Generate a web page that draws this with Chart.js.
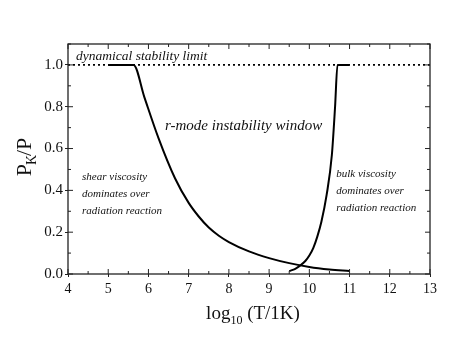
<!DOCTYPE html>
<html>
<head>
<meta charset="utf-8">
<script src="https://cdn.jsdelivr.net/npm/chart.js@4"></script>
<style>
  html, body { margin: 0; padding: 0; background: #fff; }
  #wrap { width: 474px; height: 345px; }
</style>
</head>
<body>
<div id="wrap"><canvas id="rmodeChart" width="474" height="345"></canvas></div>
<script>
// curva da viscosidade de cisalhamento (log10 T, Pk/P)
const shearX = [5.0, 5.63, 5.9, 6.25, 6.66, 7.0, 7.25, 7.5, 7.75, 8.0, 8.5, 9.0, 9.5, 10.0, 10.5, 11.0];
const shearY = [1.0, 1.0, 0.845, 0.65, 0.458, 0.34, 0.275, 0.222, 0.183, 0.153, 0.108, 0.076, 0.052, 0.034, 0.022, 0.014];

// curva da viscosidade volumétrica
const bulkX = [9.5, 9.65, 9.77, 9.9, 10.0, 10.1, 10.2, 10.3, 10.43, 10.56, 10.64, 10.7, 11.0];
const bulkY = [0.014, 0.025, 0.04, 0.062, 0.088, 0.125, 0.18, 0.25, 0.378, 0.569, 0.80, 1.0, 1.0];

// limite de estabilidade dinâmica
const limitX = [4, 13];
const limitY = [1.0, 1.0];

const xTicks = [4, 5, 6, 7, 8, 9, 10, 11, 12, 13];
const yTicks = [0.0, 0.2, 0.4, 0.6, 0.8, 1.0];

const SERIF = '"Liberation Serif", "Times New Roman", serif';

function pts(xs, ys) {
    return xs.map((x, i) => ({ x: x, y: ys[i] }));
}

// textos dentro do gráfico (posição em coordenadas de dados)
const notes = [
    { text: 'dynamical stability limit', x: 4.2, y: 1.04, size: 13.5 },
    { text: 'r-mode instability window', x: 6.41, y: 0.708, size: 15 },
    { text: 'shear viscosity', x: 4.35, y: 0.464, size: 11 },
    { text: 'dominates over', x: 4.35, y: 0.383, size: 11 },
    { text: 'radiation reaction', x: 4.35, y: 0.301, size: 11 },
    { text: 'bulk viscosity', x: 10.67, y: 0.478, size: 11 },
    { text: 'dominates over', x: 10.67, y: 0.397, size: 11 },
    { text: 'radiation reaction', x: 10.67, y: 0.316, size: 11 }
];

const framePlugin = {
    id: 'frame',
    afterDatasetsDraw(chart) {
        const ctx = chart.ctx;
        const a = chart.chartArea;
        const xs = chart.scales.x;
        const ys = chart.scales.y;
        ctx.save();
        ctx.strokeStyle = '#222';
        ctx.lineWidth = 1.3;
        ctx.strokeRect(a.left, a.top, a.right - a.left, a.bottom - a.top);

        // marcas internas (maiores e menores)
        ctx.lineWidth = 1;
        ctx.beginPath();
        for (let v = 4; v <= 13.001; v += 0.5) {
            const px = xs.getPixelForValue(v);
            const len = Math.abs(v - Math.round(v)) < 0.01 ? 5 : 3;
            ctx.moveTo(px, a.bottom); ctx.lineTo(px, a.bottom - len);
            ctx.moveTo(px, a.top); ctx.lineTo(px, a.top + len);
        }
        for (let v = 0; v <= 1.1001; v += 0.1) {
            const py = ys.getPixelForValue(v);
            const major = Math.round(v * 10) % 2 === 0;
            const len = major ? 5 : 3;
            ctx.moveTo(a.left, py); ctx.lineTo(a.left + len, py);
            ctx.moveTo(a.right, py); ctx.lineTo(a.right - len, py);
        }
        ctx.stroke();

        // anotações
        ctx.fillStyle = '#111';
        ctx.textBaseline = 'middle';
        ctx.textAlign = 'left';
        notes.forEach(n => {
            ctx.font = 'italic ' + n.size + 'px ' + SERIF;
            ctx.fillText(n.text, xs.getPixelForValue(n.x), ys.getPixelForValue(n.y));
        });

        // título do eixo x: log10 (T/1K)
        ctx.textBaseline = 'alphabetic';
        const big = '19px ' + SERIF, small = '12px ' + SERIF;
        ctx.font = big; const w1 = ctx.measureText('log').width;
        ctx.font = small; const w2 = ctx.measureText('10').width;
        ctx.font = big; const w3 = ctx.measureText(' (T/1K)').width;
        let x0 = (a.left + a.right) / 2 + 4 - (w1 + w2 + w3) / 2;
        const yb = 319;
        ctx.font = big; ctx.fillText('log', x0, yb);
        ctx.font = small; ctx.fillText('10', x0 + w1, yb + 5);
        ctx.font = big; ctx.fillText(' (T/1K)', x0 + w1 + w2, yb);

        // título do eixo y: PK/P
        ctx.translate(31, 156);
        ctx.rotate(-Math.PI / 2);
        const yBig = '22px ' + SERIF, ySmall = '14px ' + SERIF;
        ctx.font = yBig; const p1 = ctx.measureText('P').width;
        ctx.font = ySmall; const p2 = ctx.measureText('K').width;
        ctx.font = yBig; const p3 = ctx.measureText('/P').width;
        let s0 = -(p1 + p2 + p3) / 2;
        ctx.font = yBig; ctx.fillText('P', s0, 0);
        ctx.font = ySmall; ctx.fillText('K', s0 + p1 - 1, 5);
        ctx.font = yBig; ctx.fillText('/P', s0 + p1 + p2 - 2, 0);
        ctx.restore();
    }
};

document.addEventListener('DOMContentLoaded', function() {
    const canvas = document.getElementById('rmodeChart');
    if (!canvas) return;

    const lineStyle = {
        borderColor: '#000',
        borderWidth: 2,
        pointRadius: 0,
        fill: false,
        cubicInterpolationMode: 'monotone'
    };

    new Chart(canvas.getContext('2d'), {
        type: 'line',
        data: {
            datasets: [
                Object.assign({ label: 'limit', data: pts(limitX, limitY) }, lineStyle,
                    { borderWidth: 1.6, borderDash: [2, 3], cubicInterpolationMode: 'default' }),
                Object.assign({ label: 'shear', data: pts(shearX, shearY) }, lineStyle),
                Object.assign({ label: 'bulk', data: pts(bulkX, bulkY) }, lineStyle)
            ]
        },
        options: {
            responsive: false,
            animation: false,
            layout: { padding: { left: 0, right: 44, top: 44, bottom: 0 } },
            plugins: {
                legend: { display: false },
                tooltip: { enabled: false }
            },
            scales: {
                x: {
                    type: 'linear',
                    min: 4, max: 13,
                    afterBuildTicks: s => { s.ticks = xTicks.map(v => ({ value: v })); },
                    afterFit: s => { s.height = 71; },
                    grid: { drawOnChartArea: false, drawTicks: true, tickLength: 3, color: '#222' },
                    border: { display: false },
                    ticks: {
                        color: '#111',
                        padding: 4,
                        maxRotation: 0,
                        font: { family: SERIF, size: 14 }
                    }
                },
                y: {
                    type: 'linear',
                    min: 0, max: 1.1,
                    afterBuildTicks: s => { s.ticks = yTicks.map(v => ({ value: v })); },
                    afterFit: s => { s.width = 68; },
                    grid: { drawOnChartArea: false, drawTicks: true, tickLength: 3, color: '#222' },
                    border: { display: false },
                    ticks: {
                        color: '#111',
                        padding: 2,
                        font: { family: SERIF, size: 15 },
                        callback: v => v.toFixed(1)
                    }
                }
            }
        },
        plugins: [framePlugin]
    });
});
</script>
</body>
</html>
